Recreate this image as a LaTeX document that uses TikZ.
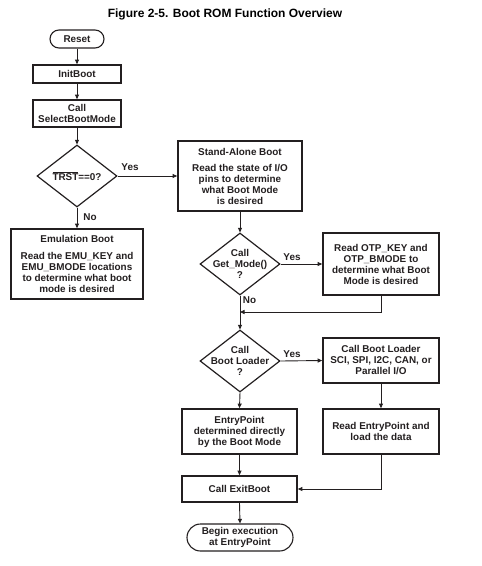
\documentclass[tikz,border=0pt]{standalone}
\usepackage{fontspec}
\setmainfont{Liberation Sans}
\usetikzlibrary{shapes.geometric,arrows.meta}
\definecolor{ink}{HTML}{231F20}
\begin{document}
\begin{tikzpicture}[x=1pt,y=-1pt,
  txt/.style={font=\fontsize{9.9}{11}\selectfont\bfseries, align=center, text=ink},
  box/.style={txt, draw=ink, line width=1.7pt, inner sep=0pt},
  term/.style={txt, draw=ink, line width=1.1pt, inner sep=0pt},
  dia/.style={draw=ink, line width=1.2pt, shape=diamond, inner sep=0pt, minimum width=80pt, minimum height=62pt},
  arr/.style={draw=ink, line width=0.9pt, -{Triangle[length=4.5pt,width=4pt]}},
  lab/.style={font=\fontsize{9.9}{11}\selectfont\bfseries, text=ink}]
\useasboundingbox (0,0) rectangle (482,566);
\node[font=\fontsize{12}{14}\selectfont\bfseries] (title) at (225,14) {Figure 2-5. Boot ROM Function Overview};

\node[term, rounded corners=9pt, minimum width=54pt, minimum height=18pt] (reset) at (77,39) {Reset};
\node[box, minimum width=88pt, minimum height=18pt] (init) at (77,74) {InitBoot};
\node[box, minimum width=88pt, minimum height=27pt] (sel) at (77,113.5) {Call\\SelectBootMode};
\node[dia] (d1) at (77,176) {};
\node[txt] (d1t) at (77,176) {$\overline{\mbox{TRST}}$==0?};
\node[box, minimum width=124pt, minimum height=70pt] (sa) at (240,176) {Stand-Alone Boot\\[5pt]Read the state of I/O\\pins to determine\\what Boot Mode\\is desired};
\node[box, minimum width=132pt, minimum height=70pt] (emu) at (77,264) {Emulation Boot\\[6pt]Read the EMU\_KEY and\\EMU\_BMODE locations\\to determine what boot\\mode is desired};
\node[dia] (d2) at (240,264) {};
\node[txt] (d2t) at (240,264) {Call\\Get\_Mode()\\?};
\node[box, minimum width=116pt, minimum height=62pt] (otp) at (381,264) {Read OTP\_KEY and\\OTP\_BMODE to\\determine what Boot\\Mode is desired};
\node[dia] (d3) at (240,361) {};
\node[txt] (d3t) at (240,361) {Call\\Boot Loader\\?};
\node[box, minimum width=116pt, minimum height=45pt] (cbl) at (381,360.5) {Call Boot Loader\\SCI, SPI, I2C, CAN, or\\Parallel I/O};
\node[box, minimum width=116pt, minimum height=45pt] (rep) at (381,431.5) {Read EntryPoint and\\load the data};
\node[box, minimum width=115pt, minimum height=45pt] (ep) at (239.5,431.5) {EntryPoint\\determined directly\\by the Boot Mode};
\node[box, minimum width=115pt, minimum height=26pt] (exit) at (239.5,489) {Call ExitBoot};
\node[term, rounded corners=13.5pt, minimum width=106pt, minimum height=27pt] (begin) at (240,537.5) {Begin execution\\at EntryPoint};

\coordinate (j1) at (240,312);

\draw[arr] (reset) -- (init);
\draw[arr] (init) -- (sel);
\draw[arr] (sel) -- (d1.north);
\draw[arr] (d1.east) -- (sa.west);
\draw[arr] (d1.south) -- (emu.north);
\draw[arr] (sa.south) -- (d2.north);
\draw[arr] (d2.east) -- (otp.west);
\draw[arr] (d2.south) -- (d3.north);
\draw[arr] (otp.south) |- (j1);
\draw[arr] (d3.east) -- (cbl.west);
\draw[arr] (d3.south) -- (ep.north);
\draw[arr] (cbl.south) -- (rep.north);
\draw[arr] (ep.south) -- (exit.north);
\draw[arr] (rep.south) |- (exit.east);
\draw[arr] (exit.south) -- (begin.north);

\node[lab] (y1) at (130,167) {Yes};
\node[lab] (n1) at (90,217) {No};
\node[lab] (y2) at (292,257) {Yes};
\node[lab] (n2) at (249.5,300) {No};
\node[lab] (y3) at (292,354) {Yes};
\end{tikzpicture}
\end{document}
